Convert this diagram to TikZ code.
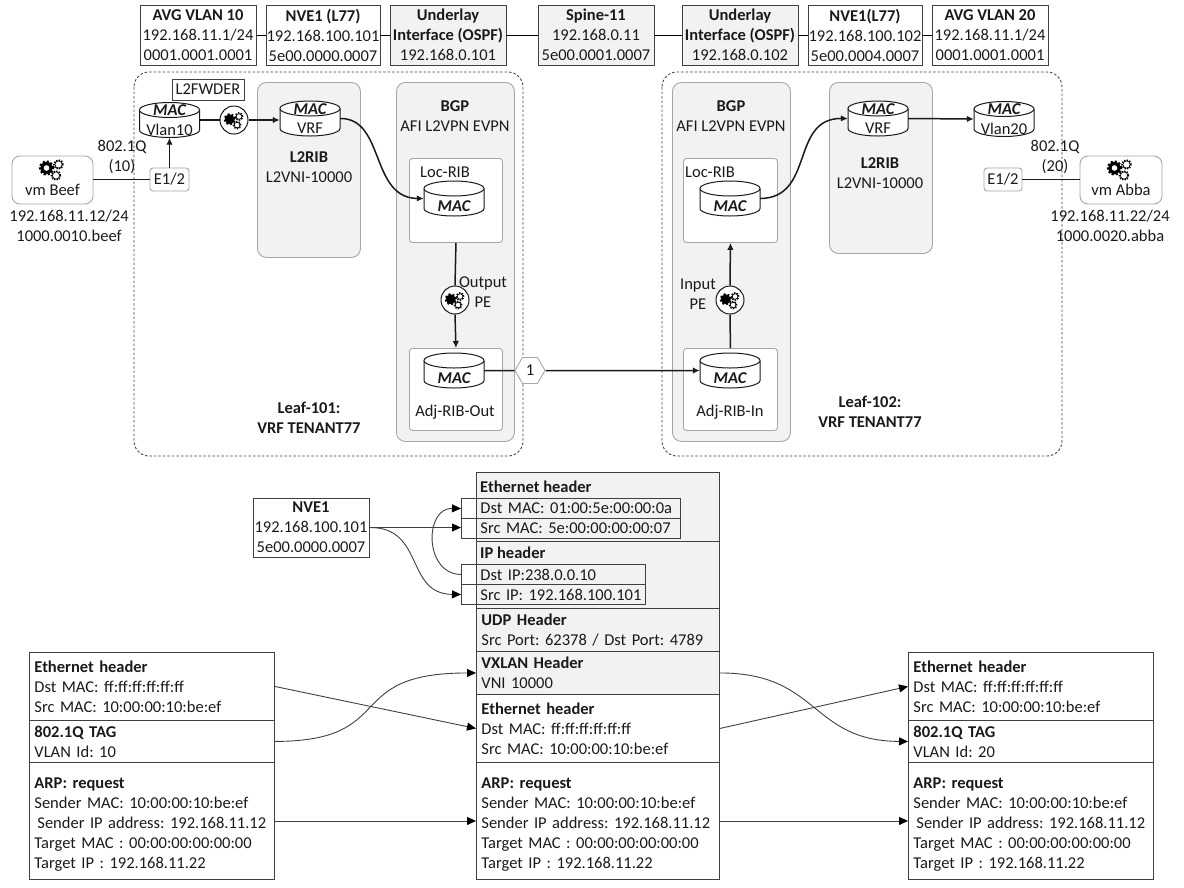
\documentclass[tikz,border=0pt]{standalone}
\usepackage{fontspec}
\setmainfont{Carlito}
\usetikzlibrary{arrows.meta,shapes.geometric,calc}
\definecolor{panel}{HTML}{F2F2F2}
\definecolor{edge}{HTML}{A6A6A6}
\definecolor{ink}{HTML}{1A1A1A}
\definecolor{thin}{HTML}{404040}
\tikzset{
  base/.style={font=\fontsize{16.5}{20}\selectfont\frenchspacing,text=ink,inner sep=0pt},
  txt/.style={base,align=center},
  ltxt/.style={base,align=left,anchor=west},
  topbox/.style={base,draw=thin,line width=0.9pt,align=center,minimum width=#1,minimum height=60pt},
  topg/.style={topbox=#1,fill=panel},
  zone/.style={draw=thin,dash pattern=on 2.5pt off 2pt,line width=0.9pt,rounded corners=15pt},
  graybox/.style={draw=edge,fill=panel,line width=0.9pt,rounded corners=9pt},
  whitebox/.style={draw=edge,fill=white,line width=0.9pt,rounded corners=3pt},
  gearc/.style={circle,draw=ink,fill=white,line width=1pt,minimum size=28pt,inner sep=0pt},
  link/.style={draw=ink,line width=1.5pt},
  flow/.style={draw=ink,line width=1.5pt,-{Latex[length=7pt,width=6.5pt]}},
  pack/.style={draw=thin,line width=0.9pt,-{Triangle[length=9pt,width=8pt,color=black]}},
  sec/.style 2 args={base,draw=thin,line width=0.9pt,anchor=north west,minimum width=#1,minimum height=#2,
     text width=#1-10pt,inner xsep=5pt,align=left},
  secg/.style 2 args={sec={#1}{#2},fill=panel},
  row/.style={base,draw=thin,line width=0.9pt,anchor=north west,minimum width=#1,minimum height=20pt,
     text width=#1-4pt,inner xsep=2pt,align=left},
  gears/.pic={
    \draw[black,line width=2.4pt,dash pattern=on 2pt off 1.9pt] (-5.5,-1) circle[radius=6.4pt];
    \fill[black] (-5.5,-1) circle[radius=6.2pt];
    \fill[#1] (-5.5,-1) circle[radius=2.8pt];
    \draw[black,line width=1.8pt,dash pattern=on 1.3pt off 1.3pt] (6.5,-4.5) circle[radius=4.4pt];
    \draw[black,line width=0.7pt,fill=white] (6.5,-4.5) circle[radius=3.6pt];
    \draw[black,line width=1.8pt,dash pattern=on 1.3pt off 1.3pt] (4,6.5) circle[radius=4.4pt];
    \draw[black,line width=0.7pt,fill=white] (4,6.5) circle[radius=3.6pt];
  }
}
\newcommand{\cylbody}[2]{%
  \node[minimum width=60pt,minimum height=35pt,inner sep=0pt] (#1) at (#2) {};
  \begin{scope}[shift={(#1.center)}]
    \draw[ink,fill=white,line width=1pt] (-30,-10) -- (-30,10) .. controls (-30,14.1) and (-16.6,17.5) .. (0,17.5)
      .. controls (16.6,17.5) and (30,14.1) .. (30,10) -- (30,-10);
    \draw[ink,fill=white,line width=1pt] (0,-10) ellipse[x radius=30pt,y radius=7.5pt];
  \end{scope}}
\newcommand{\cylT}[3]{\cylbody{#1}{#2}
  \node[txt,font=\fontsize{16.5}{20}\selectfont\bfseries\itshape] (#1-m) at ($(#1.center)+(0,-9.5)$) {MAC};
  \node[txt] (#1-l) at ($(#1.center)+(0,10)$) {#3};}
\newcommand{\cylB}[2]{\cylbody{#1}{#2}
  \node[txt,font=\fontsize{16.5}{20}\selectfont\bfseries\itshape] (#1-m) at ($(#1.center)+(0,7.5)$) {MAC};}
\newcommand{\arpup}{\rule{0pt}{18pt}}
\begin{document}
\begin{tikzpicture}[x=1pt,y=-1pt]
\useasboundingbox (0,0) rectangle (1184,887);
% top boxes
\node[topbox=116pt] (avg10) at (198,35) {\textbf{AVG VLAN 10}\\192.168.11.1/24\\0001.0001.0001};
\node[topbox=114pt] (nveL) at (323,35) {\textbf{NVE1 (L77)}\\192.168.100.101\\5e00.0000.0007};
\node[topg=116pt] (undL) at (448,35) {\textbf{Underlay}\\\textbf{Interface (OSPF)}\\192.168.0.101};
\node[topg=116pt] (spine) at (596,35) {\textbf{Spine-11}\\192.168.0.11\\5e00.0001.0007};
\node[topg=116pt] (undR) at (740,35) {\textbf{Underlay}\\\textbf{Interface (OSPF)}\\192.168.0.102};
\node[topbox=114pt] (nveR) at (865,35) {\textbf{NVE1(L77)}\\192.168.100.102\\5e00.0004.0007};
\node[topbox=116pt] (avg20) at (990,35) {\textbf{AVG VLAN 20}\\192.168.11.1/24\\0001.0001.0001};
\draw[thin,line width=0.9pt] (avg10)--(nveL) (nveL)--(undL) (undL)--(spine) (spine)--(undR) (undR)--(nveR) (nveR)--(avg20);
% zones
\draw[zone] (134,72) rectangle (523,456);
\draw[zone] (662,72) rectangle (1062,456);
% panels
\node[graybox,minimum width=103pt,minimum height=175pt,anchor=north west] (ribL) at (257,82) {};
\node[graybox,minimum width=118pt,minimum height=359pt,anchor=north west] (bgpL) at (396,82) {};
\node[graybox,minimum width=118pt,minimum height=359pt,anchor=north west] (bgpR) at (672,82) {};
\node[graybox,minimum width=103pt,minimum height=171pt,anchor=north west] (ribR) at (829,82) {};
\node[whitebox,minimum width=93pt,minimum height=84pt,anchor=north west] (locL) at (409,158) {};
\node[whitebox,minimum width=93pt,minimum height=82pt,anchor=north west] (adjL) at (409,348) {};
\node[whitebox,minimum width=94pt,minimum height=84pt,anchor=north west] (locR) at (683,158) {};
\node[whitebox,minimum width=94pt,minimum height=82pt,anchor=north west] (adjR) at (683,348) {};
% panel text
\node[txt] (tRibL) at (309,167) {\textbf{L2RIB}\\L2VNI-10000};
\node[txt] (tBgpL) at (455,116) {\textbf{BGP}\\AFI L2VPN EVPN};
\node[txt] (tBgpR) at (731,116) {\textbf{BGP}\\AFI L2VPN EVPN};
\node[txt] (tRibR) at (880,173) {\textbf{L2RIB}\\L2VNI-10000};
\node[txt] (tLocL) at (445,172) {Loc-RIB};
\node[txt] (tLocR) at (710,172) {Loc-RIB};
\node[txt] (tAdjL) at (455,412) {Adj-RIB-Out};
\node[txt] (tAdjR) at (730,412) {Adj-RIB-In};
\node[txt] (tLeafL) at (309,418) {\textbf{Leaf-101:}\\\textbf{VRF TENANT77}};
\node[txt] (tLeafR) at (870,412) {\textbf{Leaf-102:}\\\textbf{VRF TENANT77}};
% vm boxes
\node[whitebox,rounded corners=8pt,base,minimum width=81pt,text height=36pt,text depth=6pt,inner ysep=3pt] (vmB) at (52.5,180) {vm Beef};
\node[whitebox,rounded corners=8pt,base,minimum width=82pt,text height=36pt,text depth=6pt,inner ysep=3pt] (vmA) at (1121,180) {vm Abba};
\pic at (52,169) {gears=white};
\pic at (1120,169) {gears=white};
\node[txt] (tIpB) at (69,226) {192.168.11.12/24\\1000.0010.beef};
\node[txt] (tIpA) at (1110,226) {192.168.11.22/24\\1000.0020.abba};
\node[txt] (tQ10) at (122,157) {802.1Q\\(10)};
\node[txt] (tQ20) at (1055,157) {802.1Q\\(20)};
\node[whitebox,base,minimum width=39pt,minimum height=23pt] (eL) at (169.5,179.5) {E1/2};
\node[whitebox,base,minimum width=38pt,minimum height=23pt] (eR) at (1003,179.5) {E1/2};
\node[base,draw=thin,line width=0.9pt,minimum width=72pt,minimum height=21pt] (fwd) at (208,89.5) {L2FWDER};
% cylinders
\cylT{vlanL}{169.5,120}{Vlan10}
\cylT{vrfL}{310,118.5}{VRF}
\cylT{vrfR}{878,118.5}{VRF}
\cylT{vlanR}{1004,119}{Vlan20}
\cylB{cLoL}{454,198.5}
\cylB{cLoR}{730,198.5}
\cylB{cOut}{454,370.5}
\cylB{cIn}{730,370.5}
% gear nodes
\node[gearc] (gF) at (234,120) {};
\node[gearc] (gO) at (455,300) {};
\node[gearc] (gI) at (730,300) {};
\pic[scale=0.78] at (234,120) {gears=black};
\pic[scale=0.78] at (455,300) {gears=black};
\pic[scale=0.78] at (730,300) {gears=black};
\node[txt] (tOut) at (483,292) {Output\\PE};
\node[txt] (tIn) at (698,294) {Input\\PE};
\node[regular polygon,regular polygon sides=6,draw=edge,fill=white,line width=0.9pt,minimum size=30pt,inner sep=0pt,base] (hx) at (530,370.5) {1};
% upper connectors
\draw[link] (vmB.east |- eL.west) -- (eL.west);
\draw[link] (eR.east) -- (vmA.west |- eR.east);
\draw[flow] (eL.north) -- (vlanL.south);
\draw[link] (vlanL.east) -- (gF.west);
\draw[flow] (gF.east) -- (gF.east -| vrfL.west);
\draw[flow] (vrfL.east) .. controls (385,118) and (370,198) .. (cLoL.west);
\draw[link] (locL.south) -- (gO.north);
\draw[flow] (gO.south) -- (adjL.north);
\draw[link] (cOut.east) -- (hx.west);
\draw[flow] (hx.east) -- (cIn.west);
\draw[link] (adjR.north) -- (gI.south);
\draw[flow] (gI.north) -- (locR.south);
\draw[flow] (cLoR.east) .. controls (815,198) and (790,118) .. (vrfR.west);
\draw[flow] (vrfR.east) -- (vlanR.west);
% lower: NVE1
\node[topbox=116pt,minimum height=59pt] (nveB) at (311,527.5) {\textbf{NVE1}\\192.168.100.101\\5e00.0000.0007};
% centre stack
\node[secg={243pt}{69pt}] (cEthO) at (476,472) {};
\node[secg={243pt}{67pt}] (cIp) at (476,541) {};
\node[secg={243pt}{43pt}] (cUdp) at (476,608) {\textbf{UDP Header}\\Src Port: 62378 / Dst Port: 4789};
\node[secg={243pt}{43pt}] (cVx) at (476,651) {\textbf{VXLAN Header}\\VNI 10000};
\node[sec={243pt}{68pt}] (cEth) at (476,694) {\textbf{Ethernet header}\\Dst MAC: ff:ff:ff:ff:ff:ff\\Src MAC: 10:00:00:10:be:ef};
\node[sec={243pt}{117pt}] (cArp) at (476,762) {\arpup\textbf{ARP: request}\\Sender MAC: 10:00:00:10:be:ef\\Sender IP address: 192.168.11.12\\Target MAC : 00:00:00:00:00:00\\Target IP : 192.168.11.22};
\node[ltxt] (tEthO) at (480,487) {\textbf{Ethernet header}};
\node[ltxt] (tIpO) at (480,553) {\textbf{IP header}};
\node[row=219pt] (rDM) at (461,498) {\hspace*{17pt}Dst MAC: 01:00:5e:00:00:0a};
\node[row=219pt] (rSM) at (461,518) {\hspace*{17pt}Src MAC: 5e:00:00:00:00:07};
\node[row=184pt] (rDI) at (461,564) {\hspace*{17pt}Dst IP:238.0.0.10};
\node[row=184pt] (rSI) at (461,584) {\hspace*{17pt}Src IP: 192.168.100.101};
% left stack
\node[sec={245pt}{68pt}] (lEth) at (29,652) {\textbf{Ethernet header}\\Dst MAC: ff:ff:ff:ff:ff:ff\\Src MAC: 10:00:00:10:be:ef};
\node[sec={245pt}{42pt}] (lTag) at (29,720) {\textbf{802.1Q TAG}\\VLAN Id: 10};
\node[sec={245pt}{117pt}] (lArp) at (29,762) {\arpup\textbf{ARP: request}\\Sender MAC: 10:00:00:10:be:ef\\\hspace*{3pt}Sender IP address: 192.168.11.12\\Target MAC : 00:00:00:00:00:00\\Target IP : 192.168.11.22};
% right stack
\node[sec={245pt}{68pt}] (rEth) at (908,652) {\textbf{Ethernet header}\\Dst MAC: ff:ff:ff:ff:ff:ff\\Src MAC: 10:00:00:10:be:ef};
\node[sec={245pt}{42pt}] (rTag) at (908,720) {\textbf{802.1Q TAG}\\VLAN Id: 20};
\node[sec={245pt}{117pt}] (rArp) at (908,762) {\arpup\textbf{ARP: request}\\Sender MAC: 10:00:00:10:be:ef\\\hspace*{3pt}Sender IP address: 192.168.11.12\\Target MAC : 00:00:00:00:00:00\\Target IP : 192.168.11.22};
% lower connectors
\draw[pack] (nveB.east) -- (nveB.east -| rSM.west);
\draw[pack] (nveB.east) .. controls (425,527) and (405,594) .. (rSI.west);
\draw[pack] (rDI.west) .. controls (424,574) and (424,508) .. (rDM.west);
\draw[pack] (lEth.east) -- (cEth.west);
\draw[pack] (lTag.east) .. controls (400,741) and (340,673) .. (cVx.west);
\draw[pack] (lArp.east) -- (cArp.west);
\draw[pack] (cVx.east) .. controls (820,673) and (810,741) .. (rTag.west);
\draw[pack] (cEth.east) -- (rEth.west);
\draw[pack] (cArp.east) -- (rArp.west);
\end{tikzpicture}
\end{document}
